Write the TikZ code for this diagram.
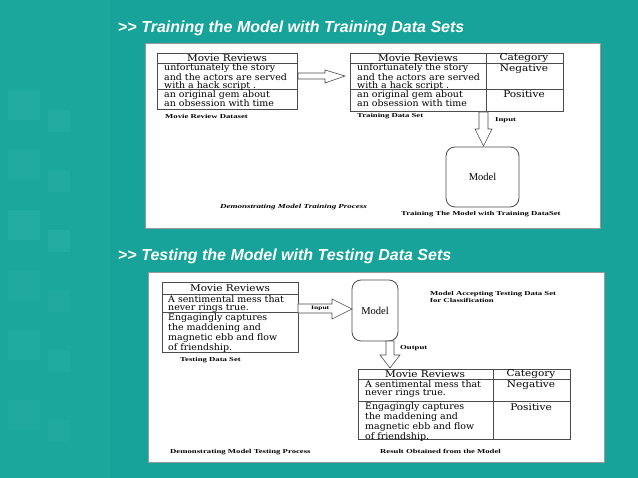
\documentclass[tikz,border=0pt]{standalone}
\usepackage{fontspec}
\setmainfont{DejaVu Serif}
\newfontfamily\cellfont[FakeStretch=1.05]{DejaVu Serif}
\newfontfamily\headfont[FakeStretch=1.13]{DejaVu Serif}
\newfontfamily\capfont[FakeStretch=1.45]{Liberation Serif}
\newfontfamily\modelfont{Liberation Serif}
\newfontfamily\titlefont{Liberation Sans}
\definecolor{teal1}{HTML}{17A399}
\definecolor{teal2}{HTML}{3FC4BA}
\tikzset{
  cell/.style={anchor=north west,inner sep=0pt,align=left,font=\cellfont\fontsize{9}{8.3}\selectfont},
  head/.style={inner sep=0pt,font=\headfont\fontsize{9.3}{9}\selectfont},
  capt/.style={inner sep=0pt,font=\capfont\bfseries\fontsize{6}{6.5}\selectfont,anchor=west,align=left},
  ttl/.style={inner sep=0pt,anchor=west,text=white,font=\titlefont\bfseries\fontsize{16}{17}\selectfont},
  tbl/.style={draw=black!70,line width=0.8pt},
  hollow/.style={draw=black!70,fill=white,line width=0.6pt},
  panel/.style={fill=white,draw=black!40,line width=1.2pt},
  modelbox/.style={draw=black!70,line width=0.8pt,rounded corners=9,inner sep=0,font=\modelfont\fontsize{10.5}{10}\selectfont},
}
\begin{document}
\begin{tikzpicture}[x=1pt,y=-1pt]
\useasboundingbox (0,0) rectangle (638,478);
\fill[teal1] (0,0) rectangle (638,478);
\fill[teal2,opacity=0.15] (0,0) rectangle (110,478);
\foreach \yy/\op in {90/0.15,150/0.12,210/0.18,270/0.1,330/0.14,400/0.1}{
  \fill[teal2,opacity=\op] (8,\yy) rectangle (40,\yy+30);
  \fill[teal2,opacity=\op] (48,\yy+20) rectangle (70,\yy+42);
}
\node[ttl] (t1) at (118,28) {>> \itshape Training the Model with Training Data Sets};
\node[ttl] (t2) at (118,256) {>> \itshape Testing the Model with Testing Data Sets};
% panel 1
\node[panel,minimum width=455,minimum height=185,anchor=north west,inner sep=0] (p1) at (145,43) {};
\draw[tbl] (157,53) rectangle (297,109);
\draw[tbl] (157,63) -- (297,63) (157,89) -- (297,89);
\node[head] (ah) at (227,58) {Movie Reviews};
\node[cell] (a1) at (164,63.5) {unfortunately the story\\and the actors are served\\with a hack script .};
\node[cell] (a2) at (164,90) {an original gem about\\an obsession with time};
\node[capt] (ac) at (165,116) {Movie Review Dataset};
\draw[hollow] (298,73) -- (325,73) -- (325,70) -- (345,76) -- (325,83) -- (325,79) -- (298,79) -- cycle;
\draw[tbl] (350,53) rectangle (563,111);
\draw[tbl] (350,63) -- (563,63) (350,89) -- (563,89) (486,53) -- (486,111);
\node[head] (bh) at (418,58) {Movie Reviews};
\node[head] (bc) at (524,58) {Category};
\node[head] (bn) at (524,69) {Negative};
\node[head] (bp) at (524,94) {Positive};
\node[cell] (b1) at (357,63.5) {unfortunately the story\\and the actors are served\\with a hack script .};
\node[cell] (b2) at (357,90) {an original gem about\\an obsession with time};
\node[capt] (bcap) at (357,116) {Training Data Set};
\draw[hollow] (479,112) -- (488,112) -- (488,129) -- (492,129) -- (483.5,146) -- (475,129) -- (479,129) -- cycle;
\node[capt] (inl) at (495,120) {Input};
\node[modelbox,minimum width=73,minimum height=60] (m1) at (482.5,177) {Model};
\node[capt,font=\capfont\bfseries\itshape\fontsize{6.2}{6}\selectfont] (d1) at (220,207) {Demonstrating Model Training Process};
\node[capt] (d2) at (401,214) {Training The Model with Training DataSet};
% panel 2
\node[panel,minimum width=456,minimum height=190,anchor=north west,inner sep=0] (p2) at (148,272) {};
\draw[tbl] (162,282) rectangle (298,352);
\draw[tbl] (162,294) -- (298,294) (162,312) -- (298,312);
\node[head] (ch) at (230,288) {Movie Reviews};
\node[cell] (c1) at (168,295) {A sentimental mess that\\never rings true.};
\node[cell] (c2) at (168,313.5) {Engagingly captures\\the maddening and\\magnetic ebb and flow\\of friendship.};
\node[capt] (ccap) at (180,360) {Testing Data Set};
\draw[hollow] (298,304) -- (332,304) -- (332,299) -- (352,309) -- (332,319) -- (332,313) -- (298,313) -- cycle;
\node[capt,font=\capfont\bfseries\fontsize{5.2}{6}\selectfont] (inl2) at (311,308.5) {Input};
\node[modelbox,minimum width=46,minimum height=61] (m2) at (375,310.5) {Model};
\node[capt] (mac) at (430,297) {Model Accepting Testing Data Set\\for Classification};
\draw[hollow] (386,341) -- (394,341) -- (394,355) -- (400,355) -- (390,368) -- (380,355) -- (386,355) -- cycle;
\node[capt] (outl) at (400,348) {Output};
\draw[tbl] (358,369) rectangle (570,439);
\draw[tbl] (358,379) -- (570,379) (358,401) -- (570,401) (493,369) -- (493,439);
\node[head] (dh) at (425,374) {Movie Reviews};
\node[head] (dc) at (531,374) {Category};
\node[head] (dn) at (531,385) {Negative};
\node[head] (dp) at (531,407) {Positive};
\node[cell] (d1r) at (365,380.5) {A sentimental mess that\\never rings true.};
\node[cell] (d2r) at (365,402.5) {Engagingly captures\\the maddening and\\magnetic ebb and flow\\of friendship.};
\node[capt] (dt) at (170,452) {Demonstrating Model Testing Process};
\node[capt] (ro) at (380,451) {Result Obtained from the Model};
\end{tikzpicture}
\end{document}
